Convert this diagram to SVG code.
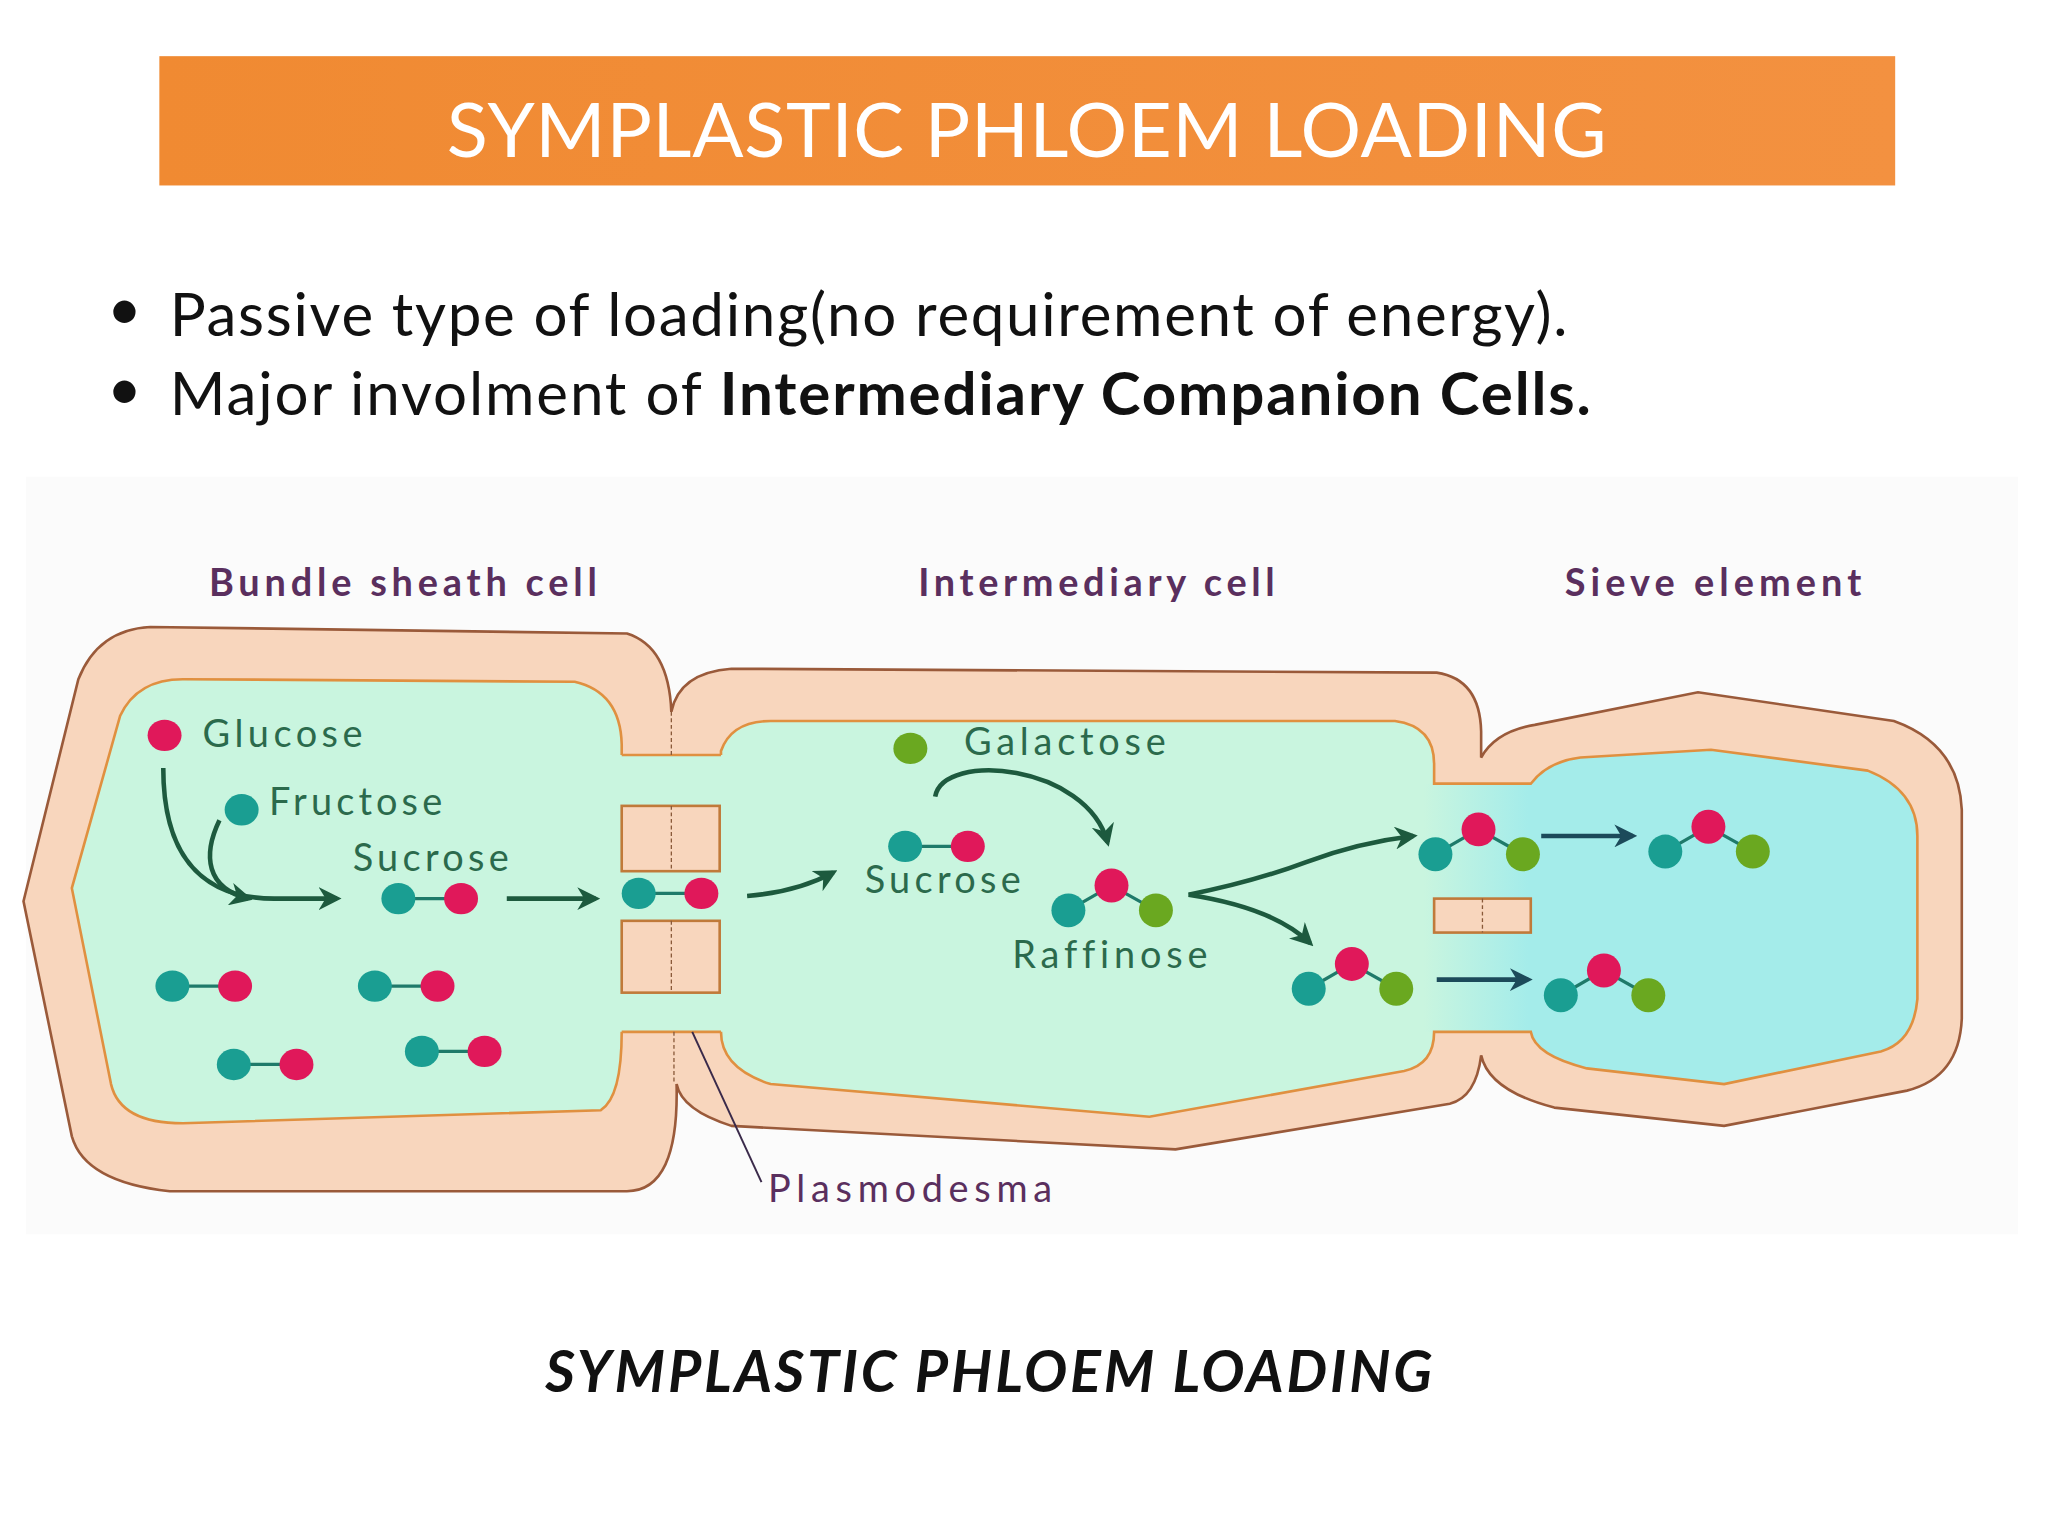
<svg xmlns="http://www.w3.org/2000/svg" width="2048" height="1536" viewBox="0 0 2048 1536">
<defs>
<linearGradient id="ban" x1="0" x2="1"><stop offset="0" stop-color="#f08a32"/><stop offset="1" stop-color="#f39140"/></linearGradient>
<linearGradient id="lum" gradientUnits="userSpaceOnUse" x1="1090" x2="1170" y1="0" y2="0"><stop offset="0" stop-color="#c9f5df"/><stop offset="1" stop-color="#a4ecea"/></linearGradient>
<marker id="ag" viewBox="0 0 10 10" refX="8" refY="5" markerWidth="5" markerHeight="5" orient="auto"><path d="M0,0 L10,5 L0,10 L3,5 Z" fill="#1d5a3e"/></marker>
<marker id="ab" viewBox="0 0 10 10" refX="8" refY="5" markerWidth="5" markerHeight="5" orient="auto"><path d="M0,0 L10,5 L0,10 L3,5 Z" fill="#1c4a5a"/></marker>
<g id="suc"><line x1="0" y1="0" x2="48" y2="0" stroke="#1f7a6a" stroke-width="2.5"/><ellipse fill="#1a9e92" cx="0" cy="0" rx="13" ry="12"/><ellipse fill="#e0185a" cx="48" cy="0" rx="13" ry="12"/></g>
<g id="raf"><path d="M0,0 L33,-19 L67,0" fill="none" stroke="#1f7a6a" stroke-width="2.5"/><ellipse fill="#1a9e92" cx="0" cy="0" rx="13" ry="13"/><ellipse fill="#e0185a" cx="33" cy="-19" rx="13" ry="13"/><ellipse fill="#6aa820" cx="67" cy="0" rx="13" ry="13"/></g>
</defs>
<style>
.wall{fill:#f8d6bd;stroke:#9a5a3a;stroke-width:2}
.lin{stroke:#e09040;stroke-width:2}
.box{fill:#f8d6bd;stroke:#c07a3a;stroke-width:2}
.t{fill:#1a9e92}.r{fill:#e0185a}.g{fill:#6aa820}
.arr{fill:none;stroke:#1d5a3e;stroke-width:3.5;marker-end:url(#ag)}
.arb{fill:none;stroke:#1c4a5a;stroke-width:3.5;marker-end:url(#ab)}
.lbl{font-family:Lato,'DejaVu Sans',sans-serif;font-size:29px;fill:#2b6a4c;letter-spacing:1.5px}
.hd{font-family:Lato,'DejaVu Sans',sans-serif;font-size:29px;font-weight:bold;fill:#5a2f5e}
.bul{font-family:Lato,'Open Sans',sans-serif;font-size:46px;fill:#111}
</style>
<rect width="2048" height="1536" fill="#fff"/>
<g transform="scale(1.30612)">
<g id="title"><rect x="122" y="43" width="1329" height="99" fill="url(#ban)"/>
<text x="786" y="120" text-anchor="middle" font-family="Lato,'Open Sans',sans-serif" font-size="58" fill="#fff" textLength="888">SYMPLASTIC PHLOEM LOADING</text></g>
<g id="bullets">
<text x="82" y="253" class="bul" font-size="38">•</text><text x="130" y="257" class="bul" textLength="1070">Passive type of loading(no requirement of energy).</text>
<text x="82" y="314" class="bul" font-size="38">•</text><text x="130" y="318" class="bul" textLength="1088">Major involment of <tspan font-weight="bold">Intermediary Companion Cells.</tspan></text>
</g>
<rect x="20" y="365" width="1525" height="580" fill="#fbfbfb"/>
<g id="headings">
<text x="160" y="456" class="hd" textLength="297">Bundle sheath cell</text>
<text x="703" y="456" class="hd" textLength="273">Intermediary cell</text>
<text x="1198" y="456" class="hd" textLength="227">Sieve element</text>
</g>
<g id="walls">
<path class="wall" d="M18,690 L60,520 Q75,482 115,480 L480,485 Q512,495 514,545 Q520,515 560,512 L1100,515 Q1133,520 1134,560 L1134,580 Q1145,560 1175,555 L1300,530 L1450,552 Q1500,570 1502,620 L1502,780 Q1500,825 1460,835 L1320,862 L1190,848 Q1140,835 1134,808 Q1130,840 1110,845 L900,880 L560,862 Q522,850 518,830 Q520,912 480,912 L130,912 Q65,905 55,870 Z"/>
</g>
<g id="lumen">
<path fill="#c9f5df" d="M55,680 L92,548 Q105,520 140,520 L440,522 Q475,530 476,570 L476,578 L552,578 L552,575 Q560,552 590,552 L1068,552 Q1098,556 1098,585 L1098,600 L1175,600 L1175,790 L1098,790 Q1098,815 1075,820 L880,855 L590,830 Q552,818 552,790 L476,790 Q476,840 460,850 L140,860 Q92,860 85,830 Z"/>
<path fill="url(#lum)" d="M1090,600 L1172,600 Q1185,583 1210,580 L1310,574 L1430,590 Q1468,605 1468,640 L1468,765 Q1465,798 1440,805 L1320,830 L1215,818 Q1175,808 1172,790 L1090,790 Z"/>
<path fill="none" class="lin" d="M476,578 L476,570 Q475,530 440,522 L140,520 Q105,520 92,548 L55,680 L85,830 Q92,860 140,860 L460,850 Q476,840 476,790"/>
<path fill="none" class="lin" d="M552,578 L552,575 Q560,552 590,552 L1068,552 Q1098,556 1098,585 L1098,600 L1172,600 Q1185,583 1210,580 L1310,574 L1430,590 Q1468,605 1468,640 L1468,765 Q1465,798 1440,805 L1320,830 L1215,818 Q1175,808 1172,790 L1098,790 Q1098,815 1075,820 L880,855 L590,830 Q552,818 552,790"/>
<path class="lin" d="M476,578 L552,578 M476,790 L552,790"/>
</g>
<g id="plasmodesmata">
<rect class="box" x="476" y="617" width="75" height="50"/><rect class="box" x="476" y="705" width="75" height="55"/>
<rect class="box" x="1098" y="688" width="74" height="26"/>
<path d="M514,617 V667 M514,705 V760 M1135,688 V714 M514,545 V578 M516,790 V830" stroke="#8a5a3a" stroke-width="1" stroke-dasharray="3,2"/>
</g>
<g id="connectors">
<path class="arr" d="M125,588 C125,650 150,688 210,688 L258,688"/>
<path class="arr" d="M168,628 C155,655 158,680 190,688" marker-end="none"/>
<path class="arr" d="M388,688 L456,688"/>
<path class="arr" d="M572,686 Q610,683 638,668"/>
<path class="arr" d="M716,610 C722,575 832,585 848,645"/>
<path class="arr" d="M910,685 Q960,675 1000,660 Q1040,645 1082,640"/>
<path class="arr" d="M910,685 Q975,695 1003,722"/>
<path class="arb" d="M1180,640 L1250,640"/>
<path class="arb" d="M1100,750 L1170,750"/>
<path d="M530,790 L583,905" stroke="#3a2a4a" stroke-width="1.5"/>
</g>
<g id="molecules">
<ellipse class="r" cx="126" cy="563" rx="13" ry="12"/>
<ellipse class="t" cx="185" cy="620" rx="13" ry="12"/>
<use href="#suc" x="305" y="688"/><use href="#suc" x="489" y="684"/>
<use href="#suc" x="132" y="755"/><use href="#suc" x="287" y="755"/>
<use href="#suc" x="179" y="815"/><use href="#suc" x="323" y="805"/>
<use href="#suc" x="693" y="648"/>
<ellipse class="g" cx="697" cy="573" rx="13" ry="12"/>
<use href="#raf" x="818" y="697"/><use href="#raf" x="1099" y="654"/><use href="#raf" x="1275" y="652"/>
<use href="#raf" x="1002" y="757"/><use href="#raf" x="1195" y="762"/>
</g>
<g id="labels">
<text x="155" y="572" class="lbl" textLength="124">Glucose</text>
<text x="206" y="624" class="lbl" textLength="134">Fructose</text>
<text x="270" y="667" class="lbl" textLength="121">Sucrose</text>
<text x="662" y="684" class="lbl" textLength="121">Sucrose</text>
<text x="738" y="578" class="lbl" textLength="156">Galactose</text>
<text x="775" y="741" class="lbl" textLength="151">Raffinose</text>
<text x="588" y="920" class="lbl" style="fill:#5a2f5e" textLength="219">Plasmodesma</text>
</g>
<text id="caption" x="757" y="1066" text-anchor="middle" font-family="Lato,'Open Sans',sans-serif" font-size="44" font-weight="bold" font-style="italic" fill="#111" textLength="679">SYMPLASTIC PHLOEM LOADING</text>
</g>
</svg>
